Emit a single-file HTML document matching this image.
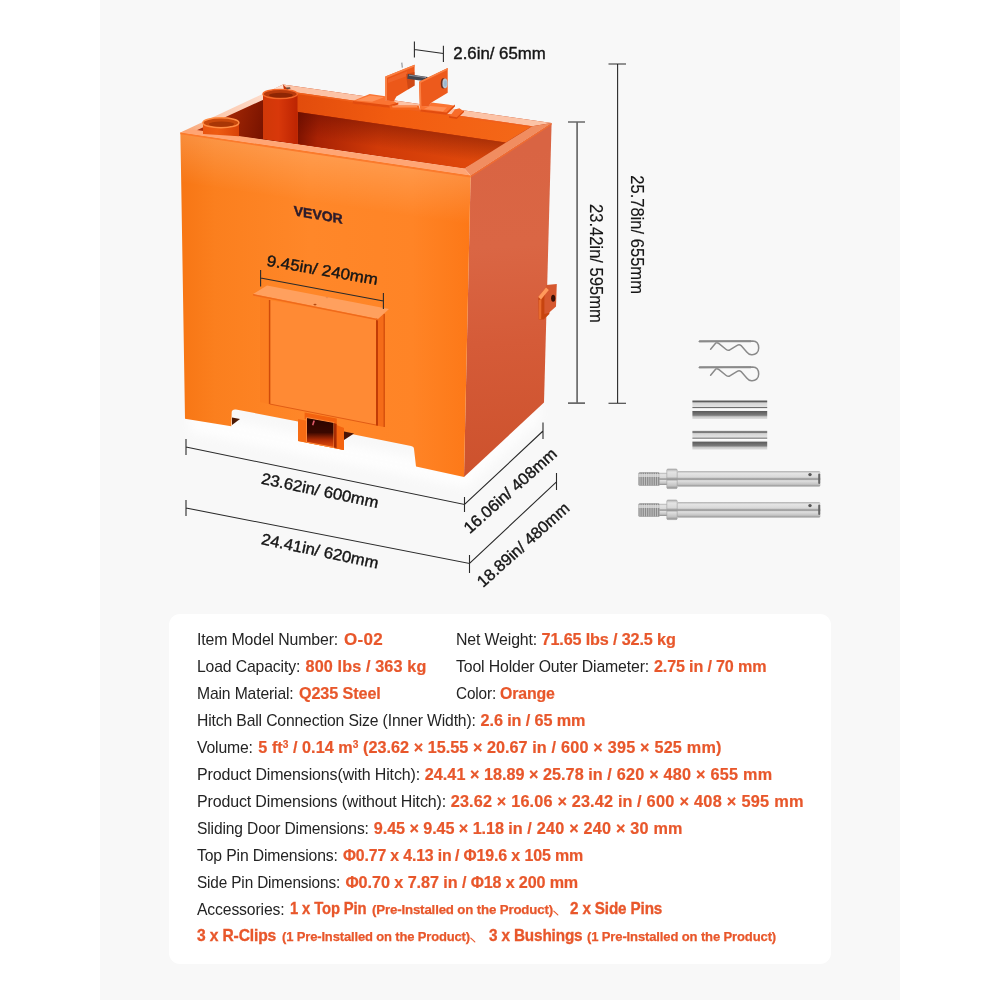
<!DOCTYPE html>
<html><head><meta charset="utf-8"><title>Product</title>
<style>
html,body{margin:0;padding:0;}
body{width:1000px;height:1000px;position:relative;overflow:hidden;background:#fff;font-family:"Liberation Sans",sans-serif;}
.wrap{position:absolute;left:0;top:0;width:1000px;height:1000px;will-change:transform;transform:translateZ(0);}
.band{position:absolute;left:100px;top:0;width:800px;height:1000px;background:#f8f8f8;}
.card{position:absolute;left:168.8px;top:614.2px;width:662.2px;height:349.6px;border-radius:11px;background:#fff;}
.t{position:absolute;white-space:nowrap;font-size:16.2px;line-height:20px;height:20px;color:#242424;transform-origin:0 50%;}
.v{font-weight:bold;color:#e8572b;-webkit-text-stroke:0.2px #e8572b;}
.s{font-weight:bold;color:#e8572b;font-size:13.6px;-webkit-text-stroke:0.25px #e8572b;}
.V{font-weight:bold;color:#e8572b;font-size:17.0px;-webkit-text-stroke:0.35px #e8572b;}
.c{color:#e8572b;font-size:12px;}
.sp{font-size:10.2px;position:relative;top:-5.6px;}
</style></head>
<body>
<div class="wrap">
<div class="band"></div>
<svg width="1000" height="1000" viewBox="0 0 1000 1000" style="position:absolute;left:0;top:0">
<defs>
  <linearGradient id="gFront" gradientUnits="userSpaceOnUse" x1="180" y1="300" x2="470" y2="300">
    <stop offset="0" stop-color="#f77614"/>
    <stop offset="0.12" stop-color="#fb7f1e"/>
    <stop offset="0.45" stop-color="#ff8729"/>
    <stop offset="0.8" stop-color="#ff8426"/>
    <stop offset="1" stop-color="#fd7817"/>
  </linearGradient>
  <linearGradient id="gRight" gradientUnits="userSpaceOnUse" x1="500" y1="150" x2="520" y2="470">
    <stop offset="0" stop-color="#d96443"/>
    <stop offset="0.3" stop-color="#da6644"/>
    <stop offset="0.6" stop-color="#d55b38"/>
    <stop offset="1" stop-color="#cd522d"/>
  </linearGradient>
  <linearGradient id="gBackIn" gradientUnits="userSpaceOnUse" x1="400" y1="105" x2="392" y2="160">
    <stop offset="0" stop-color="#f4640f"/>
    <stop offset="0.42" stop-color="#ee540c"/>
    <stop offset="0.5" stop-color="#d63c08"/>
    <stop offset="1" stop-color="#c93206"/>
  </linearGradient>
  <linearGradient id="gLeftIn" gradientUnits="userSpaceOnUse" x1="215" y1="120" x2="300" y2="140">
    <stop offset="0" stop-color="#b02c06"/>
    <stop offset="0.55" stop-color="#7a1400"/>
    <stop offset="1" stop-color="#4a0800"/>
  </linearGradient>
  <linearGradient id="gTube" x1="0" y1="0" x2="1" y2="0">
    <stop offset="0" stop-color="#e85410"/>
    <stop offset="0.4" stop-color="#ee5c12"/>
    <stop offset="1" stop-color="#d84208"/>
  </linearGradient>
  <linearGradient id="gBush" x1="0" y1="0" x2="0" y2="1">
    <stop offset="0" stop-color="#aaa"/>
    <stop offset="0.07" stop-color="#5c5c5c"/>
    <stop offset="0.15" stop-color="#d6d6d6"/>
    <stop offset="0.34" stop-color="#e2e2e2"/>
    <stop offset="0.39" stop-color="#6a6a6a"/>
    <stop offset="0.45" stop-color="#ffffff"/>
    <stop offset="0.55" stop-color="#f4f4f4"/>
    <stop offset="0.6" stop-color="#5e5e5e"/>
    <stop offset="0.8" stop-color="#7c7c7c"/>
    <stop offset="0.88" stop-color="#c8c8c8"/>
    <stop offset="1" stop-color="#e0e0e0"/>
  </linearGradient>
  <linearGradient id="gPin" x1="0" y1="0" x2="0" y2="1">
    <stop offset="0" stop-color="#b0b0b0"/>
    <stop offset="0.15" stop-color="#e4e4e4"/>
    <stop offset="0.4" stop-color="#d8d8d8"/>
    <stop offset="0.52" stop-color="#8e8e8e"/>
    <stop offset="0.62" stop-color="#e0e0e0"/>
    <stop offset="0.85" stop-color="#c4c4c4"/>
    <stop offset="1" stop-color="#8c8c8c"/>
  </linearGradient>
  <linearGradient id="gBackUp" gradientUnits="userSpaceOnUse" x1="298" y1="100" x2="530" y2="130">
    <stop offset="0" stop-color="#e24c0c"/><stop offset="0.4" stop-color="#f25c10"/><stop offset="1" stop-color="#f46818"/>
  </linearGradient>
  <linearGradient id="gBackLo" gradientUnits="userSpaceOnUse" x1="298" y1="130" x2="500" y2="150">
    <stop offset="0" stop-color="#7c1200"/><stop offset="0.1" stop-color="#a82204"/><stop offset="0.4" stop-color="#d03a08"/><stop offset="1" stop-color="#e44c0c"/>
  </linearGradient>
  <linearGradient id="gTube2" gradientUnits="userSpaceOnUse" x1="263" y1="100" x2="297.5" y2="100">
    <stop offset="0" stop-color="#d03808"/><stop offset="0.45" stop-color="#d8380a"/><stop offset="1" stop-color="#bc2402"/>
  </linearGradient>
  <linearGradient id="gHole" x1="0" y1="0" x2="0" y2="1">
    <stop offset="0" stop-color="#2a0400"/><stop offset="0.5" stop-color="#3a0800"/><stop offset="0.75" stop-color="#b02c04"/><stop offset="1" stop-color="#e4500c"/>
  </linearGradient>
  <linearGradient id="gLRim" gradientUnits="userSpaceOnUse" x1="185" y1="132" x2="283" y2="87">
    <stop offset="0" stop-color="#f9a574"/><stop offset="0.35" stop-color="#fcc9ae"/><stop offset="1" stop-color="#fde3d6"/>
  </linearGradient>
  <filter id="fBlur" x="-20%" y="-50%" width="140%" height="200%"><feGaussianBlur stdDeviation="5"/></filter>
  <linearGradient id="gTopHi" gradientUnits="userSpaceOnUse" x1="325" y1="154" x2="318" y2="203">
    <stop offset="0" stop-color="#fff" stop-opacity="0.17"/><stop offset="1" stop-color="#fff" stop-opacity="0"/>
  </linearGradient>
  <linearGradient id="gLoShade" gradientUnits="userSpaceOnUse" x1="400" y1="126.5" x2="396.5" y2="150">
    <stop offset="0" stop-color="#5a0a00" stop-opacity="0.4"/><stop offset="1" stop-color="#5a0a00" stop-opacity="0"/>
  </linearGradient>
</defs>

<!-- ===== BOX ===== -->
<polygon points="190,412 464,468 540,400 540,420 466,488 190,432" fill="#ffffff" opacity="0.8" filter="url(#fBlur)"/>
<!-- interior base -->
<polygon points="193,129.5 283,84.5 551.6,123.1 464.3,168.5" fill="#c23206"/>
<!-- interior: back wall upper band -->
<polygon points="283,90 532.2,126 505.6,142.5 298,112" fill="url(#gBackUp)"/>
<!-- interior: back wall lower -->
<polygon points="298,112 505.6,142.5 464.3,168.5 298,144" fill="url(#gBackLo)"/>
<polygon points="298,112 505.6,142.5 464.3,168.5 298,144" fill="url(#gLoShade)"/>
<!-- interior: left wall -->
<polygon points="193,131 283,89 283,142 " fill="url(#gLeftIn)"/>
<!-- back rim highlight -->
<polygon points="283,84.5 551.6,123.1 532.2,126.2 290,91.5" fill="#fcc3a6"/>
<polygon points="290,91.5 532.2,126.2 531,127.4 290,93" fill="#f0601c"/>
<!-- left rim -->
<polygon points="180.4,132.4 194,131.4 284,90.2 283,84.5" fill="url(#gLRim)"/>
<!-- back tube -->
<path d="M263,94 L263,139.3 L297.5,144 L297.5,94 Z" fill="url(#gTube2)"/>
<ellipse cx="280.2" cy="94" rx="17.2" ry="4.6" fill="#b83a0c" stroke="#f4682a" stroke-width="1.4"/>
<ellipse cx="281" cy="95.2" rx="12" ry="2.4" fill="#8e2604"/>
<path d="M286,87.6 l4,-0.4 l0.6,1.6 l-4,0.4z" fill="#6b4a3a"/>
<!-- right face -->
<polygon points="470.6,175.6 551.6,123.1 544,402.5 464,477" fill="url(#gRight)"/>
<!-- side lug -->
<polygon points="538.4,297 546,287.4 549.4,289.4 549.4,314 543.6,319.4 538.8,319.4" fill="#c7440f"/>
<polygon points="538.8,300 541.4,299 541.2,319 538.8,319.4" fill="#e86a2c"/>
<polygon points="546.2,285 556.8,284 556,306.4 549,312.8 544.4,314 544.4,298" fill="#d6582f"/>
<polygon points="538.2,297 546,287.6 548.8,290 541,299.4" fill="#ff9a5c"/>
<ellipse cx="553.2" cy="298.2" rx="2.1" ry="3.5" fill="#3a1006"/>
<!-- right rim -->
<polygon points="470.6,175.6 551.6,123.1 532.2,126.2 464.3,168.5" fill="#f18d60"/>
<polygon points="470.6,175.6 551.6,123.1 551.4,125 470.6,177.6" fill="#ee6c34"/>
<!-- front face -->
<path d="M180.4,132.4 L470.6,175.6 L464,477 L416,466.5 L414,449 Q414,446.5 411,446 L344,432.5 L344,450 L298,441 L298,421.5 L236,409.5 Q232,409 231.7,412 L231.3,426.3 L185,418.8 Z" fill="url(#gFront)"/>
<polygon points="180.4,132.4 470.6,175.6 470,225 181.2,182" fill="url(#gTopHi)"/>
<!-- notch shadows -->
<polygon points="232,417.5 240,419 232,425" fill="#4a1a06"/>
<polygon points="344,431.5 354,433.5 344,440" fill="#4a1406"/>
<!-- front rim -->
<polygon points="180.4,132.4 470.6,175.6 464.3,168.5 193,129.5" fill="#ffa574"/>
<polygon points="180.4,132.4 470.6,175.6 470.5,177.4 180.4,134.2" fill="#fb7a2c"/>
<!-- front tube -->
<path d="M203,122.8 L203,134 L239,136.2 L239,122.8 Z" fill="url(#gTube)"/>
<ellipse cx="220.9" cy="122.8" rx="18" ry="5" fill="#c9480c" stroke="#ff8c44" stroke-width="1.5"/>
<ellipse cx="221.5" cy="124.2" rx="12.5" ry="2.6" fill="#a93606"/>

<!-- door: left rail shade -->
<polygon points="260,296 269.6,298.5 269.6,404 260,402" fill="#fb7c20" opacity="0.55"/>
<!-- door panel -->
<polygon points="269.6,300 376,319.5 376,425 269.6,404" fill="#ff8a34"/>
<polyline points="269.6,300 269.6,404" fill="none" stroke="#d04a0a" stroke-width="1.5"/>
<polyline points="269.6,404 376,425" fill="none" stroke="#e25c14" stroke-width="1"/>
<!-- right rail -->
<polygon points="376,318 384.4,312 384.4,427 376,425.4" fill="#f56c18"/>
<polygon points="376,318 378,316.6 378,425.8 376,425.4" fill="#c23c06"/>
<line x1="384.2" y1="314" x2="384.2" y2="427" stroke="#cc4608" stroke-width="1.1"/>
<!-- door handle -->
<polygon points="253,294 267,285.6 389,309 378,319" fill="#ffa05e"/>
<polygon points="253,294 378,319 378,320.6 253,295.6" fill="#f06a1c"/>
<ellipse cx="315" cy="304.6" rx="1.6" ry="0.8" fill="#b84a10"/>
<ellipse cx="327" cy="297.6" rx="1.4" ry="0.7" fill="#e88a50"/>

<!-- receiver tube -->
<polygon points="298,419 344,428 344,450 298,441" fill="#f66c14"/>
<polygon points="334,424 344,428 344,450 334,448" fill="#f4640f"/>
<polygon points="304.6,412.4 336.8,418.6 336.8,425 304.6,419" fill="#f3620f"/>
<polygon points="306.5,417.5 334,422.5 334,447.5 306.5,442.2" fill="url(#gHole)" stroke="#ff8a3c" stroke-width="1"/>
<path d="M313.2,420.5 l1.8,0.3 l-1.6,4.6 l-1.4,-0.4z" fill="#e05a6a"/>
<polygon points="334,423 336.6,424 336.6,448 334,447.5" fill="#a82c04"/>

<!-- hitch -->
<polygon points="352.8,101 369.7,94 385.3,96.2 385.3,100.5 393.8,101.2 398.3,103.8 389.2,107.4 353,103.6" fill="#fb7432"/>
<polygon points="356,100.6 370,95.4 384,97.2 372,101.8" fill="#ff9258"/>
<polygon points="352.8,101 389.2,105.2 398.3,102.4 398.3,104.4 389.2,107.8 352.8,103.8" fill="#e24c0e"/>
<polygon points="389.2,105.6 418.6,105.6 420,110 390.5,109.8" fill="#f4641c"/>
<polygon points="392,105.8 417,106 417.6,107.6 392.6,107.6" fill="#ff8c50"/>
<polygon points="419.8,105.7 428.2,106.4 431.5,102.5 447.7,104.4 454.9,105.7 446.4,114.2 420.4,110.9" fill="#fb7432"/>
<polygon points="430,106 447,107.4 443,111.4 424,109" fill="#ff8e54"/>
<polygon points="420.4,109.4 446.4,112.6 454.9,104.6 454.9,106.4 446.4,114.8 420.4,111.6" fill="#e24c0e"/>
<polygon points="454.9,109.6 459.4,108.3 464,111.6 456.8,118.7 449,117.4" fill="#f86c2a"/>
<polygon points="449,116 456.8,117.2 464,110.4 464,112 456.8,119 449,117.8" fill="#dd480c"/>
<line x1="401.8" y1="62.6" x2="402.3" y2="67.6" stroke="#8e8e92" stroke-width="1.1"/>
<polygon points="385.3,76.5 414.6,64.8 414.6,85.6 396.4,96.6 393.8,101.2 385.3,100.5" fill="#ec5819"/>
<polygon points="385.3,76.5 414.6,64.8 414.6,66.6 387,77.8 387,100.6 385.3,100.5" fill="#fa8044"/>
<polygon points="388,79 407,71.2 407,76 388,83" fill="#f26a30" opacity="0.7"/>
<polygon points="406,74 414.6,72 414.6,85.6 408,89.6" fill="#b83c10" opacity="0.55"/>
<line x1="407.6" y1="76.4" x2="427.4" y2="79.2" stroke="#45454e" stroke-width="4.6"/>
<line x1="409" y1="75.2" x2="426" y2="77.6" stroke="#8e8e98" stroke-width="1"/>
<polygon points="419.1,81.7 447.7,68 447.7,92.7 431.5,102.5 428.2,106.4 419.8,105.7" fill="#ed5a1c"/>
<polygon points="419.1,81.7 447.7,68 447.7,69.8 420.8,82.8 421.4,105.8 419.8,105.7" fill="#fa8044"/>
<ellipse cx="443.4" cy="83.4" rx="2.6" ry="5.2" fill="#6a2c1c"/>
<ellipse cx="445" cy="83.4" rx="2.6" ry="4.8" fill="#b4c6d4"/>
<ellipse cx="445.4" cy="83.4" rx="1.4" ry="3" fill="#9ab8d0"/>

<!-- logo -->
<g transform="translate(318.2,214.6) skewY(9.8)"><text x="0" y="0" text-anchor="middle" font-family="Liberation Sans, sans-serif" font-weight="bold" font-size="13.6" fill="#2c1c2c" stroke="#2c1c2c" stroke-width="0.45" dy="4.9" textLength="49" lengthAdjust="spacingAndGlyphs">VEVOR</text></g>

<!-- ===== DIM LINES ===== -->
<g stroke="#2a2a2a" stroke-width="1.1" fill="none">
<path d="M414.4,41.4V57.5M443.4,45.8V61.9M414.4,49.5L443.4,53.5"/>
<path d="M260.6,270V286.4M383.4,293V309M260.6,278L383.4,301"/>
<path d="M186,439V455M464.5,497V512M186,447L464.5,504.5L543,431M543,422.5V439"/>
<path d="M186,500V516M469.5,555V573M186,508L469.5,563.5L556.5,481.8M556.5,473V490"/>
<path d="M617.6,64V403.2M608.5,64H626M608.5,403.2H626"/>
</g>
<g stroke="#6a6a6a" stroke-width="1.7" fill="none">
<path d="M577.1,122V403.2M568,122H585M568,403.2H585"/>
</g>
<text transform="translate(499.5,52.8) rotate(0) scale(1.0496,1.0649)" text-anchor="middle" y="5.73" font-family="Liberation Sans, sans-serif" font-size="16.0" fill="#161616" stroke="#161616" stroke-width="0.4">2.6in/ 65mm</text>
<text transform="translate(322.5,269.8) rotate(9.9) scale(1.0640,0.9864)" text-anchor="middle" y="5.73" font-family="Liberation Sans, sans-serif" font-size="16.0" fill="#161616" stroke="#161616" stroke-width="0.4">9.45in/ 240mm</text>
<text transform="translate(320.0,490.2) rotate(11.8) scale(1.0417,0.9951)" text-anchor="middle" y="5.73" font-family="Liberation Sans, sans-serif" font-size="16.0" fill="#161616" stroke="#161616" stroke-width="0.4">23.62in/ 600mm</text>
<text transform="translate(320.0,550.7) rotate(11.8) scale(1.0417,0.9951)" text-anchor="middle" y="5.73" font-family="Liberation Sans, sans-serif" font-size="16.0" fill="#161616" stroke="#161616" stroke-width="0.4">24.41in/ 620mm</text>
<text transform="translate(510.0,490.5) rotate(-41.8) scale(1.0329,1.0126)" text-anchor="middle" y="5.73" font-family="Liberation Sans, sans-serif" font-size="16.0" fill="#161616" stroke="#161616" stroke-width="0.4">16.06in/ 408mm</text>
<text transform="translate(523.0,544.5) rotate(-41.8) scale(1.0242,1.0126)" text-anchor="middle" y="5.73" font-family="Liberation Sans, sans-serif" font-size="16.0" fill="#161616" stroke="#161616" stroke-width="0.4">18.89in/ 480mm</text>
<text transform="translate(596.4,263.4) rotate(90) scale(1.0356,1.0999)" text-anchor="middle" y="5.73" font-family="Liberation Sans, sans-serif" font-size="16.0" fill="#161616" stroke="#161616" stroke-width="0.12">23.42in/ 595mm</text>
<text transform="translate(636.9,234.6) rotate(90) scale(1.0347,1.0999)" text-anchor="middle" y="5.73" font-family="Liberation Sans, sans-serif" font-size="16.0" fill="#161616" stroke="#161616" stroke-width="0.12">25.78in/ 655mm</text>

<!-- ===== ACCESSORIES ===== -->
<g fill="none" stroke="#8a8a8a" stroke-width="1.5" stroke-linecap="round" stroke-linejoin="round">
<path d="M699.2,341.4 L752.8,341.1 C756.5,341.2 758.6,343.5 758.7,348 C758.7,352.5 755.5,355 751.5,354.7 C748.5,354.4 747.2,352.6 746.3,351.5 L741.1,345.6 C739.8,344.6 738.6,344.6 737.2,345.3 L729.4,350.2 C728.2,350.6 727.2,350.3 726.2,349.5 L719,343.7 C717.6,342.6 716.6,342.4 715.8,343 L710.6,349.2"/>
<path transform="translate(0,26)" d="M699.2,341.4 L752.8,341.1 C756.5,341.2 758.6,343.5 758.7,348 C758.7,352.5 755.5,355 751.5,354.7 C748.5,354.4 747.2,352.6 746.3,351.5 L741.1,345.6 C739.8,344.6 738.6,344.6 737.2,345.3 L729.4,350.2 C728.2,350.6 727.2,350.3 726.2,349.5 L719,343.7 C717.6,342.6 716.6,342.4 715.8,343 L710.6,349.2"/>
</g>
<path d="M699.2,341.3H751M699.2,367.3H751" stroke="#8a8a8a" stroke-width="2.1" fill="none"/>
<rect x="692.4" y="400.2" width="74.8" height="18.8" fill="url(#gBush)"/>
<rect x="692.4" y="430.8" width="74.8" height="18.8" fill="url(#gBush)"/>
<g>
<rect x="638.4" y="472.2" width="21.4" height="13.6" rx="1.5" fill="#8a8a8a"/>
<path d="M640,472.5v13M642.2,472.5v13M644.4,472.5v13M646.6,472.5v13M648.8,472.5v13M651,472.5v13M653.2,472.5v13M655.4,472.5v13M657.6,472.5v13" stroke="#c8c8c8" stroke-width="0.9"/>
<rect x="638.4" y="474" width="21.4" height="3" fill="#e4e4e4" opacity="0.7"/>
<rect x="659.6" y="472.8" width="7.6" height="12.2" fill="url(#gPin)"/>
<rect x="677" y="471" width="143.4" height="15.6" rx="1.5" fill="url(#gPin)"/>
<rect x="666.8" y="469" width="10.4" height="19.6" rx="1.2" fill="url(#gPin)"/>
<rect x="666.8" y="469" width="10.4" height="19.6" rx="1.2" fill="none" stroke="#a0a0a0" stroke-width="0.6"/>
<circle cx="810" cy="474.6" r="1.7" fill="#555"/>
<rect x="818.2" y="473.5" width="2" height="10.5" rx="1" fill="#666"/>
</g>
<g transform="translate(0,31)">
<rect x="638.4" y="472.2" width="21.4" height="13.6" rx="1.5" fill="#8a8a8a"/>
<path d="M640,472.5v13M642.2,472.5v13M644.4,472.5v13M646.6,472.5v13M648.8,472.5v13M651,472.5v13M653.2,472.5v13M655.4,472.5v13M657.6,472.5v13" stroke="#c8c8c8" stroke-width="0.9"/>
<rect x="638.4" y="474" width="21.4" height="3" fill="#e4e4e4" opacity="0.7"/>
<rect x="659.6" y="472.8" width="7.6" height="12.2" fill="url(#gPin)"/>
<rect x="677" y="471" width="143.4" height="15.6" rx="1.5" fill="url(#gPin)"/>
<rect x="666.8" y="469" width="10.4" height="19.6" rx="1.2" fill="url(#gPin)"/>
<rect x="666.8" y="469" width="10.4" height="19.6" rx="1.2" fill="none" stroke="#a0a0a0" stroke-width="0.6"/>
<circle cx="810" cy="474.6" r="1.7" fill="#555"/>
<rect x="818.2" y="473.5" width="2" height="10.5" rx="1" fill="#666"/>
</g>
</svg>

<div class="card"></div>
<div class="t" style="left:197.3px;top:629.1px;letter-spacing:-0.150px;transform:scaleX(0.9799);">Item Model Number:</div>
<div class="t v" style="left:343.5px;top:629.1px;letter-spacing:0.250px;transform:scaleX(1.0503);">O-02</div>
<div class="t" style="left:455.8px;top:629.1px;letter-spacing:-0.150px;transform:scaleX(0.9809);">Net Weight:</div>
<div class="t v" style="left:541.6px;top:629.1px;letter-spacing:-0.143px;">71.65 lbs / 32.5 kg</div>
<div class="t" style="left:197.3px;top:656.2px;letter-spacing:-0.150px;transform:scaleX(0.9741);">Load Capacity:</div>
<div class="t v" style="left:305.5px;top:656.2px;letter-spacing:0.134px;">800 lbs / 363 kg</div>
<div class="t" style="left:455.8px;top:656.2px;letter-spacing:-0.150px;transform:scaleX(0.9776);">Tool Holder Outer Diameter:</div>
<div class="t v" style="left:653.8px;top:656.2px;letter-spacing:-0.150px;transform:scaleX(0.9949);">2.75 in / 70 mm</div>
<div class="t" style="left:197.3px;top:683.2px;letter-spacing:-0.150px;transform:scaleX(0.9698);">Main Material:</div>
<div class="t v" style="left:298.9px;top:683.2px;letter-spacing:-0.100px;">Q235 Steel</div>
<div class="t" style="left:455.8px;top:683.2px;letter-spacing:-0.150px;transform:scaleX(0.9473);">Color:</div>
<div class="t v" style="left:500.0px;top:683.2px;letter-spacing:-0.150px;transform:scaleX(0.9815);">Orange</div>
<div class="t" style="left:197.3px;top:710.2px;letter-spacing:-0.150px;transform:scaleX(0.9708);">Hitch Ball Connection Size (Inner Width):</div>
<div class="t v" style="left:480.6px;top:710.2px;letter-spacing:-0.098px;">2.6 in / 65 mm</div>
<div class="t" style="left:197.3px;top:737.3px;letter-spacing:-0.150px;transform:scaleX(0.9722);">Volume:</div>
<div class="t v" style="left:258.3px;top:737.3px;letter-spacing:0.040px;">5 ft<span class="sp">3</span> / 0.14 m<span class="sp">3</span> (23.62 × 15.55 × 20.67 in</div>
<div class="t v" style="left:551.6px;top:737.3px;letter-spacing:0.210px;">/ 600 × 395 × 525 mm)</div>
<div class="t" style="left:197.3px;top:764.3px;letter-spacing:-0.150px;transform:scaleX(0.9881);">Product Dimensions(with Hitch):</div>
<div class="t v" style="left:424.8px;top:764.3px;letter-spacing:0.021px;">24.41 × 18.89 × 25.78 in</div>
<div class="t v" style="left:607.2px;top:764.3px;letter-spacing:0.247px;">/ 620 × 480 × 655 mm</div>
<div class="t" style="left:197.3px;top:791.3px;letter-spacing:-0.150px;transform:scaleX(0.9877);">Product Dimensions (without Hitch):</div>
<div class="t v" style="left:450.7px;top:791.3px;letter-spacing:0.195px;">23.62 × 16.06 × 23.42 in</div>
<div class="t v" style="left:637.2px;top:791.3px;letter-spacing:0.250px;transform:scaleX(1.0094);">/ 600 × 408 × 595 mm</div>
<div class="t" style="left:197.3px;top:818.4px;letter-spacing:-0.150px;transform:scaleX(0.9641);">Sliding Door Dimensions:</div>
<div class="t v" style="left:373.8px;top:818.4px;letter-spacing:-0.075px;">9.45 × 9.45 × 1.18 in</div>
<div class="t v" style="left:527.3px;top:818.4px;letter-spacing:0.222px;">/ 240 × 240 × 30 mm</div>
<div class="t" style="left:197.3px;top:845.4px;letter-spacing:-0.150px;transform:scaleX(0.9726);">Top Pin Dimensions:</div>
<div class="t v" style="left:342.8px;top:845.4px;letter-spacing:-0.150px;transform:scaleX(0.9785);">Φ0.77 x 4.13 in</div>
<div class="t v" style="left:455.1px;top:845.4px;letter-spacing:-0.150px;transform:scaleX(0.9875);">/ Φ19.6 x 105 mm</div>
<div class="t" style="left:197.3px;top:872.4px;letter-spacing:-0.150px;transform:scaleX(0.9483);">Side Pin Dimensions:</div>
<div class="t v" style="left:345.4px;top:872.4px;letter-spacing:-0.063px;">Φ0.70 x 7.87 in</div>
<div class="t v" style="left:461.9px;top:872.4px;letter-spacing:-0.150px;transform:scaleX(0.9963);">/ Φ18 x 200 mm</div>
<div class="t" style="left:197.3px;top:899.4px;letter-spacing:-0.150px;transform:scaleX(0.9721);">Accessories:</div>
<div class="t V" style="left:289.9px;top:899.2px;letter-spacing:-0.150px;transform:scaleX(0.8712);">1 x Top Pin</div>
<div class="t s" style="left:371.5px;top:900.3px;letter-spacing:-0.150px;transform:scaleX(0.9738);">(Pre-Installed on the Product)</div>
<svg class="t" style="left:553.0px;top:908.9px;height:8px" width="8" height="8" viewBox="0 0 8 8"><line x1="0.8" y1="2.2" x2="4.8" y2="5.9" stroke="#e8572b" stroke-width="1.15" stroke-linecap="round"/></svg>
<div class="t V" style="left:569.9px;top:899.2px;letter-spacing:-0.150px;transform:scaleX(0.8953);">2 x Side Pins</div>
<div class="t V" style="left:197.3px;top:926.2px;letter-spacing:-0.150px;transform:scaleX(0.9183);">3 x R-Clips</div>
<div class="t s" style="left:281.6px;top:927.3px;letter-spacing:-0.150px;transform:scaleX(0.9547);">(1 Pre-Installed on the Product)</div>
<svg class="t" style="left:470.1px;top:935.9px;height:8px" width="8" height="8" viewBox="0 0 8 8"><line x1="0.8" y1="2.2" x2="4.8" y2="5.9" stroke="#e8572b" stroke-width="1.15" stroke-linecap="round"/></svg>
<div class="t V" style="left:488.7px;top:926.2px;letter-spacing:-0.150px;transform:scaleX(0.8986);">3 x Bushings</div>
<div class="t s" style="left:587.2px;top:927.3px;letter-spacing:-0.150px;transform:scaleX(0.9603);">(1 Pre-Installed on the Product)</div>
</div>
</body></html>
